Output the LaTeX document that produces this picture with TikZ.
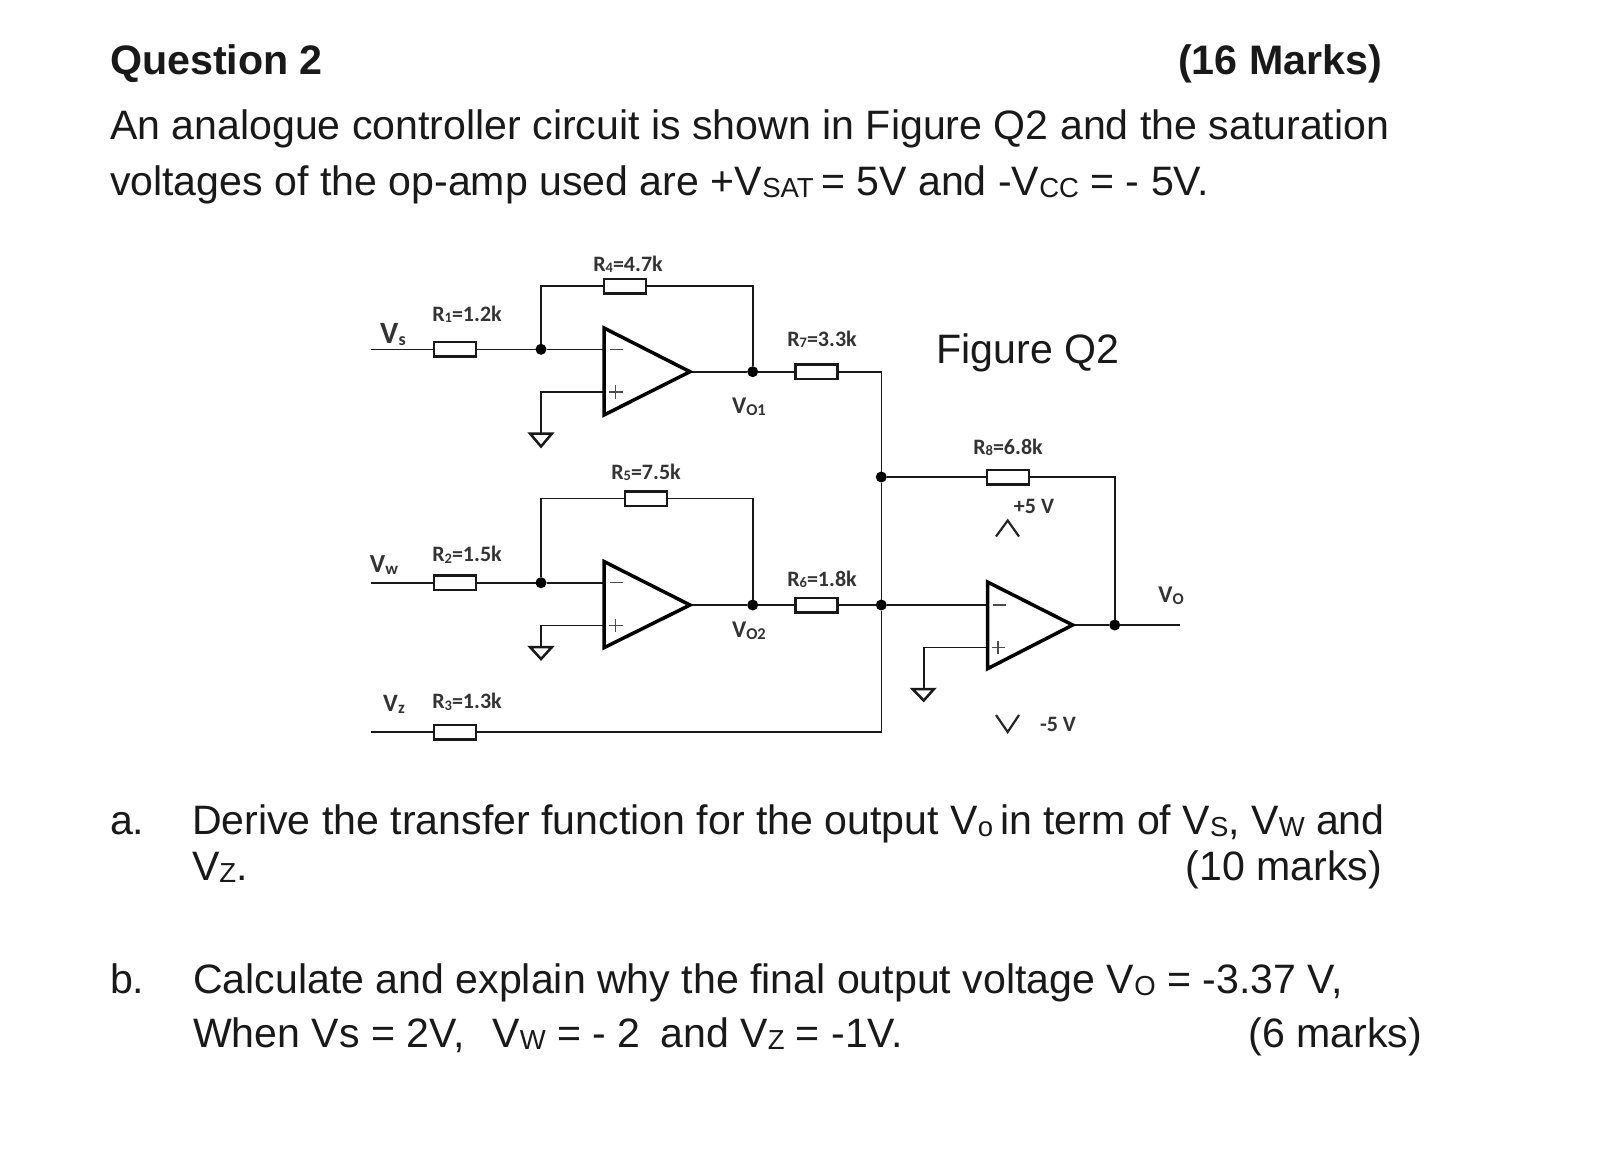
\documentclass[tikz,border=0pt]{standalone}
\usepackage{fontspec}
\setmainfont{Liberation Sans}
\newfontfamily\lblfont{Carlito}
\newcommand{\bodysub}[1]{\raisebox{-2pt}{\fontsize{27.5}{27.5}\selectfont #1}}
\newcommand{\rsub}[1]{\raisebox{-1.5pt}{\fontsize{14.5}{14.5}\selectfont #1}}
\newcommand{\vsub}[2]{\raisebox{-2pt}{\fontsize{#1}{#1}\selectfont #2}}
\tikzset{
  x=1pt,y=-1pt,
  wire/.style={line width=1.6pt,draw=black!90},
  res/.style={draw=black!90,line width=2.5pt,fill=white,rectangle,minimum width=42pt,minimum height=14.5pt,inner sep=0pt,outer sep=0pt},
  dotj/.style={circle,fill=black,inner sep=0pt,minimum size=11pt,outer sep=0pt},
  amp/.style={line width=3.5pt,draw=black,line join=miter},
  gnd/.style={line width=2.5pt,draw=black!90},
  txt/.style={inner sep=0pt,outer sep=0pt,anchor=base west,font=\fontsize{41.1}{48}\selectfont,text=black!90},
  txte/.style={txt,anchor=base east},
  lbl/.style={inner sep=0pt,outer sep=0pt,font=\lblfont\bfseries\fontsize{22}{24}\selectfont,text=black!80},
  sym/.style={line width=2.2pt,draw=black!85},
  pm/.style={line width=1.2pt,draw=black!70}
}
\begin{document}
\begin{tikzpicture}
\useasboundingbox (0,0) rectangle (1606,1168);
\fill[white] (0,0) rectangle (1606,1168);
% text
\node[txt,font=\bfseries\fontsize{41.2}{48}\selectfont] (qt) at (110,74) {Question 2};
\node[txte,font=\bfseries\fontsize{41.2}{48}\selectfont] (qm) at (1382,74) {(16 Marks)};
\node[txt] (l1) at (110,139) {An analogue controller circuit is shown in Figure Q2 and the saturation};
\node[txt] (l2) at (110,195) {voltages of the op-amp used are +V\bodysub{SAT}\kern-4pt{} = 5V and -V\bodysub{CC} = - 5V.};
\node[txt] (aa) at (110,834) {a.};
\node[txt] (a1) at (192,834) {Derive the transfer function for the output V\bodysub{o}\,in term of V\bodysub{S}, V\bodysub{W} and};
\node[txt] (a2) at (192,880) {V\bodysub{Z}.};
\node[txte] (am) at (1382,880) {(10 marks)};
\node[txt] (bb) at (110,993) {b.};
\node[txt] (b1) at (193,993) {Calculate and explain why the final output voltage V\bodysub{O} = -3.37 V,};
\node[txt] (b2) at (193,1047) {When Vs = 2V,\ \ \kern5pt V\bodysub{W} = - 2\ \ \kern-3pt and V\bodysub{Z} = -1V.};
\node[txte] (bm) at (1422,1047) {(6 marks)};
\node[txt,anchor=center] (fig) at (1028,353) {Figure Q2};
% free ends / pins
\coordinate (vs) at (371,349.3);
\coordinate (vw) at (371,582.7);
\coordinate (vz) at (371,732);
\coordinate (a1m) at (604,349.3);
\coordinate (a1p) at (604,392);
\coordinate (a1o) at (690,371.7);
\coordinate (a2m) at (604,582.7);
\coordinate (a2p) at (604,625.3);
\coordinate (a2o) at (690,605);
\coordinate (a3m) at (987.5,605);
\coordinate (a3p) at (987.5,647.3);
\coordinate (a3o) at (1072.7,625);
\coordinate (vo) at (1180,625);
\coordinate (g1) at (541,433.5);
\coordinate (g2) at (541,647);
\coordinate (g3) at (923.7,689);
% resistors
\node[res] (r1) at (455.2,349.3) {};
\node[res] (r2) at (455.2,582.7) {};
\node[res] (r3) at (455.2,732) {};
\node[res] (r4) at (625,286) {};
\node[res] (r5) at (646,498.5) {};
\node[res] (r7) at (816.5,371.7) {};
\node[res] (r6) at (816.5,605) {};
\node[res] (r8) at (1008,477) {};
% junctions
\node[dotj] (j1) at (541,349.3) {};
\node[dotj] (j2) at (541,582.7) {};
\node[dotj] (o1) at (752.7,371.7) {};
\node[dotj] (o2) at (752.7,605) {};
\node[dotj] (s1) at (881.3,477) {};
\node[dotj] (s2) at (881.3,605) {};
\node[dotj] (o3) at (1114.7,625) {};
% wires
\draw[wire] (vs) -- (r1);
\draw[wire] (r1) -- (j1);
\draw[wire] (j1) -- (a1m);
\draw[wire] (a1p) -| (g1);
\draw[wire] (a1o) -- (o1);
\draw[wire] (j1) |- (r4);
\draw[wire] (r4) -| (o1);
\draw[wire] (o1) -- (r7);
\draw[wire] (vw) -- (r2);
\draw[wire] (r2) -- (j2);
\draw[wire] (j2) -- (a2m);
\draw[wire] (a2p) -| (g2);
\draw[wire] (a2o) -- (o2);
\draw[wire] (j2) |- (r5);
\draw[wire] (r5) -| (o2);
\draw[wire] (o2) -- (r6);
\draw[wire] (vz) -- (r3);
\draw[wire] (r3) -| (s2);
\draw[wire] (r7) -| (s1);
\draw[wire] (s1) -- (s2);
\draw[wire] (r6) -- (s2);
\draw[wire] (s2) -- (a3m);
\draw[wire] (s1) -- (r8);
\draw[wire] (r8) -| (o3);
\draw[wire] (a3p) -| (g3);
\draw[wire] (a3o) -- (o3);
\draw[wire] (o3) -- (vo);
% op-amps
\draw[amp,fill=white] (604,328) -- (690,371.7) -- (604,415) -- cycle;
\draw[amp,fill=white] (604,561.5) -- (690,605) -- (604,647.7) -- cycle;
\draw[amp,fill=white] (987.5,582) -- (1072.7,625) -- (987.5,668.7) -- cycle;
% plus / minus marks
\draw[pm] (610,349.3) -- (622.7,349.3);
\draw[pm] (610,582.7) -- (622.7,582.7);
\draw[pm] (993,605) -- (1005.5,605);
\draw[pm] (609,392) -- (622.5,392) (615.7,385.3) -- (615.7,398.7);
\draw[pm] (609,625.3) -- (622.5,625.3) (615.7,618.6) -- (615.7,632);
\draw[pm] (991.5,647.3) -- (1004.5,647.3) (998,640.6) -- (998,654);
% grounds
\draw[gnd] (530,433.5) -- (552,433.5) -- (541,446.5) -- cycle;
\draw[gnd] (530,647) -- (552,647) -- (541,659) -- cycle;
\draw[gnd] (912.5,689) -- (934,689) -- (923.7,700.5) -- cycle;
% supply carets
\draw[sym] (996,536.5) -- (1007.7,520.5) -- (1019,536.5);
\draw[sym] (996,715) -- (1007.7,732) -- (1019,715);
% labels
\node[lbl] (tvs) at (393,335) {\fontsize{31}{31}\selectfont V\vsub{18}{s}};
\node[lbl] (tvw) at (384,565) {\fontsize{26}{26}\selectfont V\vsub{17}{w}};
\node[lbl] (tvz) at (394,704.5) {\fontsize{25}{25}\selectfont V\vsub{17}{z}};
\node[lbl] (t1) at (467,314.5) {R\rsub{1}=1.2k};
\node[lbl] (t2) at (467,555) {R\rsub{2}=1.5k};
\node[lbl] (t3) at (467,702) {R\rsub{3}=1.3k};
\node[lbl] (t4) at (628,264.5) {R\rsub{4}=4.7k};
\node[lbl] (t5) at (646,472.5) {R\rsub{5}=7.5k};
\node[lbl] (t7) at (822,339.5) {R\rsub{7}=3.3k};
\node[lbl] (t6) at (822,579.5) {R\rsub{6}=1.8k};
\node[lbl] (t8) at (1008,447.5) {R\rsub{8}=6.8k};
\node[lbl] (tp) at (1034,506.5) {+5 V};
\node[lbl] (tm) at (1058,724) {-5 V};
\node[lbl] (to1) at (749,406.5) {\fontsize{24}{24}\selectfont V\vsub{16.5}{O1}};
\node[lbl] (to2) at (749,631) {\fontsize{24}{24}\selectfont V\vsub{16.5}{O2}};
\node[lbl] (to3) at (1171,596) {\fontsize{24}{24}\selectfont V\vsub{16.5}{O}};
\end{tikzpicture}
\end{document}
